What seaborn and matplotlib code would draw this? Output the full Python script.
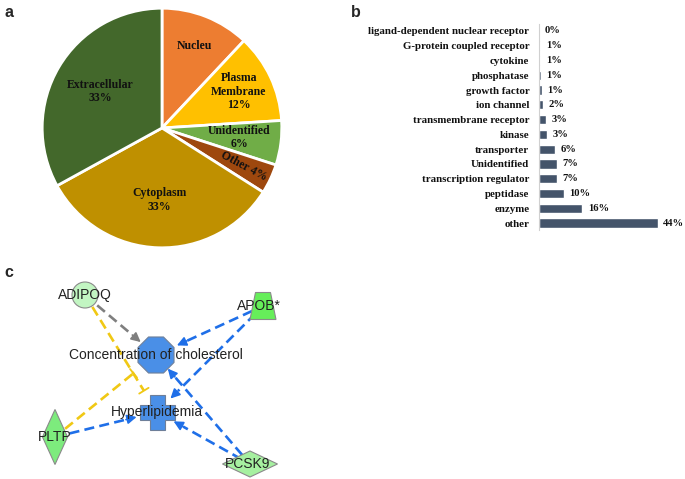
import numpy as np
import matplotlib
matplotlib.use("Agg")
import matplotlib.pyplot as plt
from matplotlib.patches import Circle, Polygon, RegularPolygon
import seaborn as sns

# panel a: subcellular location
loc_names = ["Nucleu", "Plasma\nMembrane\n12%", "Unidentified\n6%", "Other 4%", "Cytoplasm\n33%", "Extracellular\n33%"]
loc_values = [12, 12, 6, 4, 33, 33]
loc_colors = ["#ED7D31", "#FFC000", "#70AD47", "#9E480E", "#BF9000", "#43682B"]
loc_label_dist = [0.74, 0.71, 0.65, 0.75, 0.6, 0.6]
loc_label_rot = [0, 0, 0, -28, 0, 0]

# panel b: molecule type
type_names = ["ligand-dependent nuclear receptor", "G-protein coupled receptor", "cytokine",
              "phosphatase", "growth factor", "ion channel", "transmembrane receptor", "kinase",
              "transporter", "Unidentified", "transcription regulator", "peptidase", "enzyme", "other"]
type_values = [0.0, 0.5, 0.5, 0.6, 1.0, 1.5, 2.5, 3.0, 5.8, 6.5, 6.5, 9.2, 16.0, 44.0]
type_labels = ["0%", "1%", "1%", "1%", "1%", "2%", "3%", "3%", "6%", "7%", "7%", "10%", "16%", "44%"]

# panel c: network (pixel-like layout coordinates)
node_names = ["ADIPOQ", "APOB*", "Concentration of cholesterol", "Hyperlipidemia", "PLTP", "PCSK9"]
node_x = [85, 263, 156, 157, 55, 250]
node_y = [295, 306, 355, 412, 437, 464]
node_shape = ["circle", "trapezoid", "octagon", "cross", "diamond_v", "diamond_h"]
node_color = ["#C2F5C2", "#66EE5A", "#4A8FE7", "#4A8FE7", "#7DEB7D", "#A6F0A0"]
label_dx = [0, -4, 0, 0, 0, -2]

edge_src = [0, 0, 4, 4, 1, 1, 5, 5]
edge_dst = [2, 3, 2, 3, 2, 3, 2, 3]
edge_kind = ["arrow", "inhibit", "inhibit", "arrow", "arrow", "arrow", "arrow", "arrow"]
edge_color = ["#7F7F7F", "#F0C814", "#F0C814", "#1F6FE8", "#1F6FE8", "#1F6FE8", "#1F6FE8", "#1F6FE8"]
edge_start_gap = [16, 14, 13, 15, 12, 11, 12, 10]
edge_end_gap = [20, 25, 29, 21, 23, 19, 18, 19]

sns.set_theme(style="white")
plt.rcParams["font.family"] = ["Liberation Serif", "DejaVu Sans"]

fig = plt.figure(figsize=(6.85, 4.79), dpi=100)

# ---- a: pie
ax_a = fig.add_axes([41 / 685, 1 - 249 / 479, 242 / 685, 242 / 479])
wedges, _ = ax_a.pie(loc_values, colors=loc_colors, startangle=90, counterclock=False,
                     wedgeprops=dict(edgecolor="white", linewidth=2))
ax_a.set_xlim(-1.01, 1.01)
ax_a.set_ylim(-1.01, 1.01)
ax_a.set_aspect("equal")
for w, name, d, rot in zip(wedges, loc_names, loc_label_dist, loc_label_rot):
    theta = np.deg2rad((w.theta1 + w.theta2) / 2)
    ax_a.text(d * np.cos(theta), d * np.sin(theta), name, ha="center", va="center",
              fontsize=8.5, fontweight="bold", rotation=rot, linespacing=1.15, color="#111111")

# ---- b: bars
ax_b = fig.add_axes([539 / 685, 1 - 230.4 / 479, 135 / 685, 206.8 / 479])
sns.barplot(x=type_values, y=type_names, orient="h", color="#44546A", saturation=1,
            width=0.62, ax=ax_b)
ax_b.set_xlim(0, 50)
ax_b.bar_label(ax_b.containers[0], labels=type_labels, padding=4,
               fontsize=7.6, fontweight="bold", color="#111111")
for s in ["top", "right", "bottom"]:
    ax_b.spines[s].set_visible(False)
ax_b.spines["left"].set_color("#D0D0D0")
ax_b.spines["left"].set_linewidth(0.8)
ax_b.set_xticks([])
ax_b.tick_params(axis="y", length=0, pad=7)
for t in ax_b.get_yticklabels():
    t.set_fontsize(7.8)
    t.set_fontweight("bold")
    t.set_color("#111111")
ax_b.set_xlabel("")
ax_b.set_ylabel("")

# ---- c: network
ax_c = fig.add_axes([0, 0, 320 / 685, 219 / 479])
ax_c.set_xlim(0, 320)
ax_c.set_ylim(479, 260)
ax_c.axis("off")

pos = np.column_stack([node_x, node_y]).astype(float)
dash = (0, (3.8, 2.0))
for s, t, kind, col, g0, g1 in zip(edge_src, edge_dst, edge_kind, edge_color,
                                   edge_start_gap, edge_end_gap):
    p0, p1 = pos[s], pos[t]
    u = (p1 - p0) / np.linalg.norm(p1 - p0)
    a = p0 + u * g0
    b = p1 - u * g1
    if kind == "arrow":
        head = 11
        ax_c.plot([a[0], b[0] - u[0] * head], [a[1], b[1] - u[1] * head], color=col,
                  lw=1.9, linestyle=dash, zorder=1)
        ax_c.annotate("", xy=b, xytext=b - u * head,
                      arrowprops=dict(arrowstyle="-|>", color=col, lw=1.2,
                                      mutation_scale=14, shrinkA=0, shrinkB=0), zorder=1)
    else:
        ax_c.plot([a[0], b[0]], [a[1], b[1]], color=col, lw=1.9, linestyle=dash, zorder=1)
        n = np.array([-u[1], u[0]]) * 5.5
        ax_c.plot([b[0] - n[0], b[0] + n[0]], [b[1] - n[1], b[1] + n[1]], color=col,
                  lw=1.3, zorder=1)

for (x, y), shape, col in zip(pos, node_shape, node_color):
    ec = "#6E7F99" if col == "#4A8FE7" else "#8A8A8A"
    kw = dict(facecolor=col, edgecolor=ec, lw=0.8, zorder=2)
    if shape == "circle":
        patch = Circle((x, y), 13, **kw)
    elif shape == "trapezoid":
        patch = Polygon([(x - 7.5, y - 13.5), (x + 7.5, y - 13.5), (x + 13, y + 13.5), (x - 13, y + 13.5)], **kw)
    elif shape == "octagon":
        patch = RegularPolygon((x, y), 8, radius=19.5, orientation=np.pi / 8, **kw)
    elif shape == "cross":
        hw, hh, t = 17.5, 17.5, 7.5
        patch = Polygon([(x - t, y - hh), (x + t, y - hh), (x + t, y - t), (x + hw, y - t),
                         (x + hw, y + t), (x + t, y + t), (x + t, y + hh), (x - t, y + hh),
                         (x - t, y + t), (x - hw, y + t), (x - hw, y - t), (x - t, y - t)], **kw)
    elif shape == "diamond_v":
        patch = Polygon([(x, y - 27.5), (x + 12.5, y), (x, y + 27.5), (x - 12.5, y)], **kw)
    else:
        patch = Polygon([(x, y - 13), (x + 27.5, y), (x, y + 13), (x - 27.5, y)], **kw)
    ax_c.add_patch(patch)

for (x, y), name, dx in zip(pos, node_names, label_dx):
    ax_c.text(x + dx, y, name, ha="center", va="center", fontsize=10,
              family=["Liberation Sans", "DejaVu Sans"], color="#222222", zorder=3)

# panel letters
for lx, ly, letter in [(0.006, 0.99, "a"), (0.512, 0.99, "b"), (0.006, 0.447, "c")]:
    fig.text(lx, ly, letter, ha="left", va="top", fontsize=11.5, fontweight="bold",
             family=["Liberation Sans", "DejaVu Sans"])

fig.savefig("out.png", dpi=100, facecolor="white")
